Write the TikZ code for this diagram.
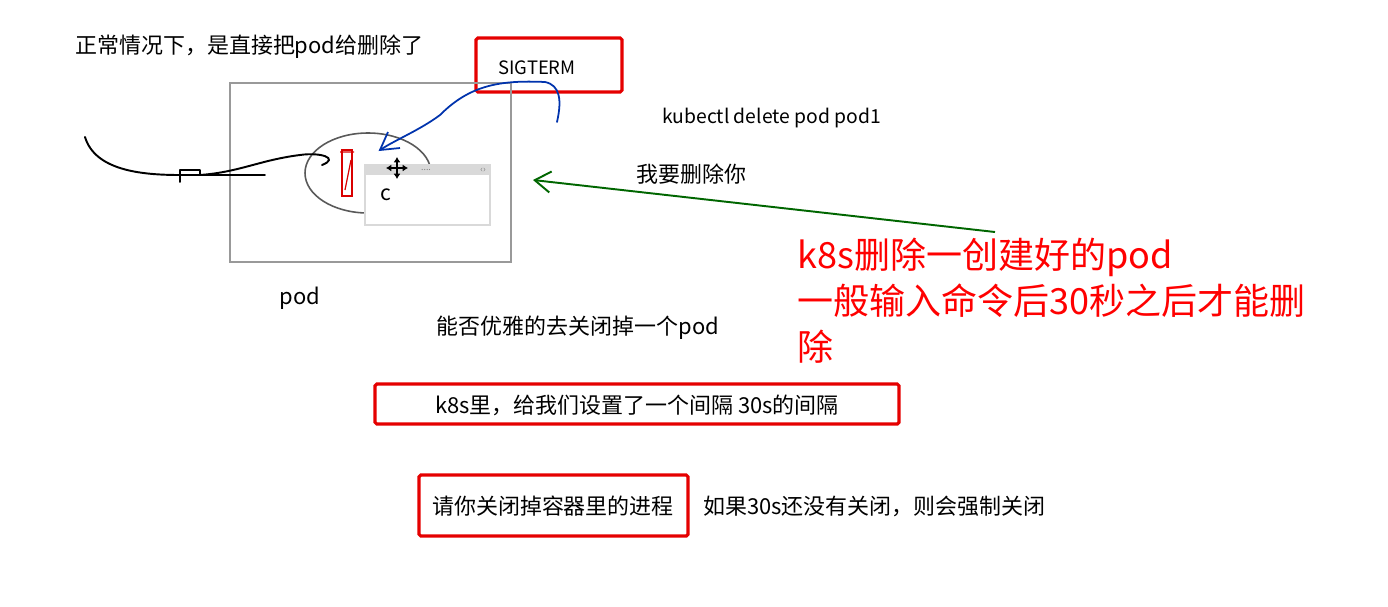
\documentclass[tikz,border=0pt]{standalone}
\usepackage{fontspec}
\setmainfont{Noto Sans CJK SC}
\usetikzlibrary{arrows.meta}
\tikzset{
  txt/.style={font=\fontsize{12.5}{15}\selectfont, inner sep=0pt},
  redbox/.style={draw=red!90!black, line width=1.8pt, rounded corners=1pt},
  hand/.style={line width=1.1pt, line cap=round, line join=round},
}
\begin{document}
\begin{tikzpicture}[x=0.02cm,y=-0.02cm]
\useasboundingbox (0,0) rectangle (1388,606);
\fill[white] (0,0) rectangle (1388,606);
% top text
\node[txt, anchor=west] (t1) at (75,47) {正常情况下，是直接把pod给删除了};
% SIGTERM
\draw[redbox] (476,38) rectangle (622,92);
\node[txt, font=\fontsize{10.5}{12}\selectfont] (sig) at (537,68) {SIGTERM};
% pod box
\draw[gray!80, line width=0.9pt] (230,83) rectangle (511,262);
\node[txt] (podl) at (300,298) {pod};
\draw[gray!70!black, line width=0.9pt] (368,173) ellipse [x radius=63, y radius=40];
% small window
\fill[white] (365,165) rectangle (490,225);
\draw[gray!30, line width=0.6pt] (365,165) rectangle (490,225);
\fill[gray!30] (365,165) rectangle (490,175);
\node[font=\tiny, text=gray] at (426,170) {....};
\node[font=\tiny, text=gray] at (483,170) {‹›};
% move cross
\draw[line width=0.8pt, {Latex[length=3pt,width=4pt]}-{Latex[length=3pt,width=4pt]}] (386,168) -- (408,168);
\draw[line width=0.8pt, {Latex[length=3pt,width=4pt]}-{Latex[length=3pt,width=4pt]}] (397,157) -- (397,179);
\node[txt, font=\fontsize{12}{12}\selectfont] (c) at (386,195) {c};
% red rectangle scribble
\draw[red!85!black, line width=0.9pt] (342,150) rectangle (352,196);
\draw[red!85!black, line width=0.7pt] (340,152)--(354,152) (345,190)--(351,160);
% black scribble
\draw[hand] (85,137) .. controls (95,170) and (140,175) .. (180,175)
  -- (265,175);
\draw[hand] (180,182) -- (180,170) -- (200,170) -- (200,175);
\draw[hand] (200,175) .. controls (240,172) and (260,160) .. (300,155)
  .. controls (320,152) and (340,158) .. (322,165);
% blue curve with arrow
\draw[blue!60!black!80!cyan, line width=1pt, line cap=round]
  (557,122) .. controls (562,100) and (560,85) .. (545,82)
  .. controls (500,80) and (470,85) .. (440,115)
  .. controls (420,130) and (395,140) .. (380,150);
\draw[blue!60!black!80!cyan, line width=1pt] (388,132) -- (380,150) -- (400,148);
% kubectl
\node[txt, font=\fontsize{11}{12}\selectfont, anchor=west] (kc) at (662,118) {kubectl delete pod pod1};
% green arrow
\coordinate (gs) at (995,232);
\coordinate (ge) at (533,180);
\draw[green!40!black, line width=1.1pt, -{Straight Barb[length=9pt,width=12pt]}] (gs) -- (ge);
\node[txt, anchor=west] (wy) at (636,174) {我要删除你};
% red big text
\node[anchor=north west, inner sep=0pt, text=red, font=\fontsize{20.5}{26}\selectfont, align=left] (big) at (797,238)
 {k8s删除一创建好的pod\\一般输入命令后30秒之后才能删\\除};
% middle
\node[txt] (q) at (578,328) {能否优雅的去关闭掉一个pod};
\draw[redbox] (375,384) rectangle (899,424);
\node[txt] (k8) at (637,405) {k8s里，给我们设置了一个间隔 30s的间隔};
\draw[redbox] (419,475) rectangle (688,536);
\node[txt] (pl) at (553,506) {请你关闭掉容器里的进程};
\node[txt, anchor=west] (rg) at (703,506) {如果30s还没有关闭，则会强制关闭};
\end{tikzpicture}
\end{document}
